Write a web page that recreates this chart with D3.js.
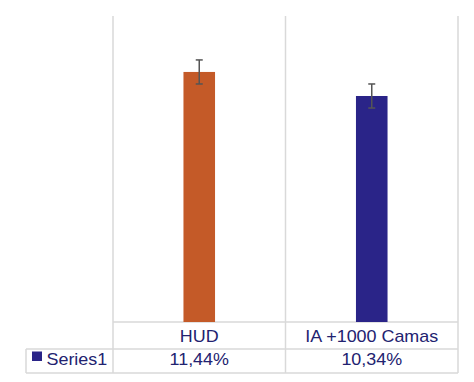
<!DOCTYPE html>
<html><head><meta charset="utf-8">
<script src="https://cdn.jsdelivr.net/npm/d3@7"></script>
<style>html,body{margin:0;padding:0;background:#fff;}svg{display:block;font-family:"Liberation Sans",Arial,sans-serif;}</style>
</head><body>
<svg id="c" width="474" height="382"></svg>
<script>
const categories = ["HUD", "IA +1000 Camas"];
const values = [11.44, 10.34];
const errors = [0.55, 0.55];
const valueLabels = ["11,44%", "10,34%"];
const seriesName = "Series1";
const barColors = ["#C45A28", "#2A2488"];
const yDomain = [0, 14];

(function () {
const svg = d3.select("#c");
const L = 113, R = 458, T = 16, plotBottom = 322, row2 = 349, tableBottom = 373, legendLeft = 26;
const gridColor = "#d9d9d9", textColor = "#222270";
const fs = 16, sx = 1.12;

const x = d3.scaleBand().domain(categories).range([L, R]).padding(0);
const y = d3.scaleLinear().domain(yDomain).range([plotBottom, T]);
const barFrac = 0.183;
const bw = x.bandwidth() * barFrac;

const edges = [L].concat(categories.map(c => x(c) + x.bandwidth()));
svg.selectAll("line.v").data(edges).enter().append("line")
  .attr("x1", d => d).attr("x2", d => d).attr("y1", T).attr("y2", tableBottom)
  .attr("stroke", gridColor).attr("stroke-width", 1.5);
svg.append("line").attr("x1", L).attr("x2", R).attr("y1", plotBottom).attr("y2", plotBottom).attr("stroke", gridColor).attr("stroke-width", 1.5);
svg.append("line").attr("x1", legendLeft).attr("x2", R).attr("y1", row2).attr("y2", row2).attr("stroke", gridColor).attr("stroke-width", 1.5);
svg.append("line").attr("x1", legendLeft).attr("x2", R).attr("y1", tableBottom).attr("y2", tableBottom).attr("stroke", gridColor).attr("stroke-width", 1.5);
svg.append("line").attr("x1", legendLeft).attr("x2", legendLeft).attr("y1", row2).attr("y2", tableBottom).attr("stroke", gridColor).attr("stroke-width", 1.5);

svg.selectAll("rect.bar").data(categories).enter().append("rect")
  .attr("x", c => x(c) + x.bandwidth() / 2 - bw / 2)
  .attr("y", (c, i) => y(values[i]))
  .attr("width", bw)
  .attr("height", (c, i) => y(0) - y(values[i]))
  .attr("fill", (c, i) => barColors[i]);

const eb = svg.selectAll("g.err").data(categories).enter().append("g")
  .attr("stroke", "#555").attr("stroke-width", 1.5);
eb.append("line")
  .attr("x1", c => x(c) + x.bandwidth() / 2).attr("x2", c => x(c) + x.bandwidth() / 2)
  .attr("y1", (c, i) => y(values[i] + errors[i])).attr("y2", (c, i) => y(values[i] - errors[i]));
eb.append("line")
  .attr("x1", c => x(c) + x.bandwidth() / 2 - 3.5).attr("x2", c => x(c) + x.bandwidth() / 2 + 3.5)
  .attr("y1", (c, i) => y(values[i] + errors[i])).attr("y2", (c, i) => y(values[i] + errors[i]));
eb.append("line")
  .attr("x1", c => x(c) + x.bandwidth() / 2 - 3.5).attr("x2", c => x(c) + x.bandwidth() / 2 + 3.5)
  .attr("y1", (c, i) => y(values[i] - errors[i])).attr("y2", (c, i) => y(values[i] - errors[i]));

svg.selectAll("text.cat").data(categories).enter().append("text")
  .attr("transform", c => `translate(${x(c) + x.bandwidth() / 2},341.5) scale(${sx},1)`)
  .attr("text-anchor", "middle").attr("font-size", fs).attr("fill", textColor)
  .text(c => c);
svg.selectAll("text.val").data(categories).enter().append("text")
  .attr("transform", c => `translate(${x(c) + x.bandwidth() / 2},365) scale(${sx},1)`)
  .attr("text-anchor", "middle").attr("font-size", fs).attr("fill", textColor)
  .text((c, i) => valueLabels[i]);
svg.append("rect").attr("x", 32).attr("y", 351.5).attr("width", 10).attr("height", 9.5).attr("fill", barColors[1]);
svg.append("text").attr("transform", `translate(46.5,365) scale(${sx},1)`)
  .attr("font-size", fs).attr("fill", textColor).text(seriesName);
})();
</script>
</body></html>
